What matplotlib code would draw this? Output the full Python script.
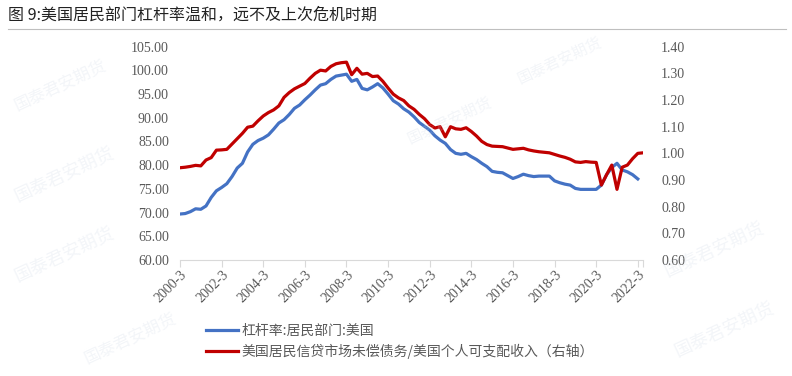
import numpy as np
import matplotlib
matplotlib.use('Agg')
import matplotlib.pyplot as plt

plt.rcParams['font.family'] = ['Noto Sans CJK SC', 'DejaVu Sans']

# quarterly, 2000-3 .. 2022-6
quarters = [f'{2000 + i // 4}-{3 * (i % 4 + 1)}' for i in range(90)]

# 杠杆率:居民部门:美国 (left axis), ends 2022-3
leverage = [69.7, 69.8, 70.2, 70.8, 70.7, 71.4, 73.2, 74.6, 75.3, 76.1,
            77.6, 79.4, 80.4, 82.8, 84.4, 85.2, 85.7, 86.4, 87.6, 88.9,
            89.6, 90.7, 92.0, 92.7, 93.8, 94.8, 95.9, 96.9, 97.2, 98.1,
            98.8, 99.0, 99.2, 97.7, 98.1, 96.2, 95.9, 96.5, 97.2, 96.3,
            95.0, 93.6, 92.9, 91.9, 91.2, 90.2, 89.0, 88.2, 87.4, 86.2,
            85.3, 84.6, 83.3, 82.5, 82.3, 82.5, 81.8, 81.2, 80.4, 79.7,
            78.7, 78.5, 78.4, 77.8, 77.2, 77.6, 78.1, 77.8, 77.6, 77.7,
            77.7, 77.7, 76.7, 76.3, 76.0, 75.8, 75.1, 74.9, 74.9, 74.9,
            74.9, 75.8, 78.0, 79.5, 80.4, 79.0, 78.6, 78.0, 77.1, np.nan]

# 美国居民信贷市场未偿债务/美国个人可支配收入 (right axis)
debt_income = [0.946, 0.948, 0.951, 0.955, 0.953, 0.975, 0.984, 1.012, 1.013, 1.015,
               1.035, 1.055, 1.075, 1.098, 1.102, 1.122, 1.140, 1.153, 1.163, 1.178,
               1.210, 1.228, 1.242, 1.252, 1.262, 1.282, 1.300, 1.312, 1.309, 1.326,
               1.336, 1.340, 1.342, 1.295, 1.319, 1.297, 1.300, 1.288, 1.290, 1.270,
               1.245, 1.222, 1.208, 1.198, 1.178, 1.165, 1.146, 1.130, 1.108, 1.095,
               1.100, 1.062, 1.100, 1.092, 1.090, 1.096, 1.082, 1.065, 1.045, 1.033,
               1.027, 1.026, 1.025, 1.020, 1.015, 1.017, 1.019, 1.013, 1.009, 1.006,
               1.004, 1.002, 0.996, 0.990, 0.985, 0.978, 0.968, 0.966, 0.969, 0.967,
               0.966, 0.881, 0.920, 0.956, 0.865, 0.948, 0.956, 0.980, 1.000, 1.002]

left_ticks = np.arange(60, 105.1, 5)
right_ticks = np.arange(0.6, 1.401, 0.1)

grey = '#595959'
fig = plt.figure(figsize=(7.92, 3.76), dpi=100)

# title + rule
fig.text(8 / 792, 1 - 15 / 376, '图 9:美国居民部门杠杆率温和，远不及上次危机时期',
         fontsize=11.5, color='#222222', va='center', ha='left')
fig.add_artist(plt.Line2D([8 / 792, 786 / 792], [1 - 29 / 376] * 2,
                          color='#bfbfbf', lw=0.8))

# faint watermarks
for (wx, wy, s) in [(60, 85, 12), (65, 175, 13), (65, 255, 13), (715, 250, 13),
                    (725, 330, 13), (130, 338, 12), (450, 120, 11), (560, 60, 11)]:
    fig.text(wx / 792, 1 - wy / 376, '国泰君安期货', fontsize=s, color='#c9d4e3',
             alpha=0.22, rotation=25, ha='center', va='center', zorder=0)

ax = fig.add_axes([180 / 792, 1 - 260 / 376, (643 - 180) / 792, (260 - 46.7) / 376])
ax2 = ax.twinx()
x = np.arange(len(quarters))

l1, = ax.plot(x, leverage, color='#4472C4', lw=2.3, solid_joinstyle='round')
l2, = ax2.plot(x, debt_income, color='#C00000', lw=2.3, solid_joinstyle='round')

ax.set_xlim(0, 89)
ax.set_ylim(60, 105)
ax2.set_ylim(0.6, 1.4)
ax.set_yticks(left_ticks)
ax.set_yticklabels([f'{v:.2f}' for v in left_ticks])
ax2.set_yticks(right_ticks)
ax2.set_yticklabels([f'{v:.2f}' for v in right_ticks])

ax.set_xticks(list(range(0, 90, 8)) + [89])
ax.set_xticklabels([quarters[i] for i in range(0, 90, 8)] + [''])

for a in (ax, ax2):
    for s in ['top', 'left', 'right']:
        a.spines[s].set_visible(False)
    a.spines['bottom'].set_color('#d9d9d9')
    a.tick_params(axis='y', length=0, labelsize=10, labelcolor=grey, pad=8)
    for lab in a.get_yticklabels():
        lab.set_fontfamily('Liberation Serif')
ax2.spines['bottom'].set_visible(False)
ax2.tick_params(axis='y', pad=13)
ax.tick_params(axis='x', length=5, color='#d9d9d9', labelsize=10, labelcolor=grey, pad=1)
for lab in ax.get_xticklabels():
    lab.set_fontfamily('Liberation Serif')
    lab.set_rotation(45)
    lab.set_ha('right')
    lab.set_rotation_mode('anchor')

fig.legend([l1, l2], ['杠杆率:居民部门:美国', '美国居民信贷市场未偿债务/美国个人可支配收入（右轴）'],
           loc='upper left', bbox_to_anchor=(200 / 792, 1 - 318 / 376), frameon=False,
           fontsize=10, labelcolor=grey, handlelength=2.3, handletextpad=0.3,
           labelspacing=0.45, borderaxespad=0)

fig.savefig('out.png', dpi=100)
